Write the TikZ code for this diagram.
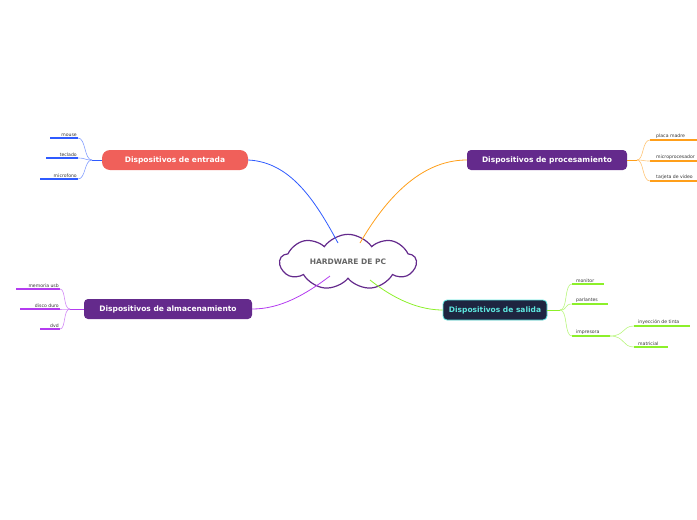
\documentclass[tikz,border=0pt]{standalone}
\usepackage{fontspec}
\setmainfont{DejaVu Sans}
\usetikzlibrary{shapes.symbols}
\definecolor{cblue}{HTML}{2F5BFF}
\definecolor{corange}{HTML}{FF9F1A}
\definecolor{cpurple}{HTML}{B43CF0}
\definecolor{cgreen}{HTML}{8CF02A}
\definecolor{dpurple}{HTML}{642A8C}
\definecolor{salmon}{HTML}{F0605A}
\definecolor{navy}{HTML}{1E2540}
\definecolor{cyan2}{HTML}{5EE8E0}
\tikzset{
  main/.style={rounded corners=4pt, minimum height=20pt, inner xsep=4pt, font=\fontsize{7.5}{9}\selectfont\bfseries, text=white},
  leaf/.style={font=\fontsize{4.6}{5}\selectfont, text=black!80, anchor=south west, inner sep=1pt},
  ul/.style={line width=1.3pt},
  br/.style={line width=0.6pt},
}
\begin{document}
\begin{tikzpicture}[x=1pt,y=-1pt]
\useasboundingbox (0,0) rectangle (697,520);
\clip (0,0) rectangle (697,520);
% center
\node[cloud, cloud puffs=9, cloud puff arc=110, aspect=3.2, draw=dpurple, line width=1.2pt, fill=white, minimum width=136pt, minimum height=38pt, font=\fontsize{7.5}{9}\selectfont\bfseries, text=black!60] (c) at (348,262) {HARDWARE DE PC};
% main nodes
\node[main, fill=salmon, rounded corners=8pt, minimum width=146pt] (e) at (175,160) {Dispositivos de entrada};
\node[main, fill=dpurple, minimum width=160pt] (p) at (547,160) {Dispositivos de procesamiento};
\node[main, fill=dpurple, minimum width=168pt] (a) at (168,309) {Dispositivos de almacenamiento};
\node[main, fill=navy, draw=cyan2, line width=0.8pt, text=cyan2, minimum width=104pt] (s) at (495,310) {Dispositivos de salida};
% connectors
\coordinate (c1) at (338,243); \coordinate (c2) at (360,243);
\coordinate (c3) at (330,276); \coordinate (c4) at (370,280);
\draw[cblue, line width=0.8pt] (c1) .. controls (315,200) and (290,162) .. (e.east);
\draw[corange, line width=0.8pt] (c2) .. controls (385,200) and (420,160) .. (p.west);
\draw[cpurple, line width=0.8pt] (c3) .. controls (305,295) and (280,309) .. (a.east);
\draw[cgreen, line width=0.8pt] (c4) .. controls (395,300) and (420,310) .. (s.west);
% entrada leaves
\coordinate (ej) at (92,160);
\draw[cblue, br] (e.west) -- (ej);
\foreach \n/\t/\y/\xl in {e1/mouse/138/50, e2/teclado/158/46, e3/microfono/179/40}{
  \coordinate (\n r) at (78,\y); \coordinate (\n l) at (\xl,\y);
  \draw[cblue, ul] (\n l) -- (\n r);
  \node[leaf, anchor=south east] (\n) at (\n r) {\t};
  \draw[cblue!60, br] (ej) .. controls (84,160) and (86,\y) .. (\n r);
}
% procesamiento leaves
\coordinate (pj) at (637,160);
\draw[corange, br] (p.east) -- (pj);
\foreach \n/\t/\y in {p1/placa madre/140, p2/microprocesador/161, p3/tarjeta de video/181}{
  \coordinate (\n l) at (650,\y); \coordinate (\n r) at (700,\y);
  \draw[corange, ul] (\n l) -- (\n r);
  \node[leaf] (\n) at ([xshift=5pt]\n l) {\t};
  \draw[corange!60, br] (pj) .. controls (644,160) and (642,\y) .. (\n l);
}
% almacenamiento leaves
\coordinate (aj) at (70,309);
\draw[cpurple, br] (a.west) -- (aj);
\foreach \n/\t/\y/\xl in {a1/memoria usb/289/16, a2/disco duro/309/20, a3/dvd/329/40}{
  \coordinate (\n r) at (60,\y); \coordinate (\n l) at (\xl,\y);
  \draw[cpurple, ul] (\n l) -- (\n r);
  \node[leaf, anchor=south east] (\n) at (\n r) {\t};
  \draw[cpurple!60, br] (aj) .. controls (63,309) and (66,\y) .. (\n r);
}
% salida leaves
\coordinate (sj) at (560,310);
\draw[cgreen, br] (s.east) -- (sj);
\foreach \n/\t/\y/\xr in {s1/monitor/284/604, s2/parlantes/304/608, s3/impresora/336/610}{
  \coordinate (\n l) at (572,\y); \coordinate (\n r) at (\xr,\y);
  \draw[cgreen, ul] (\n l) -- (\n r);
  \node[leaf] (\n) at ([xshift=3pt]\n l) {\t};
  \draw[cgreen!60, br] (sj) .. controls (568,310) and (564,\y) .. (\n l);
}
\foreach \n/\t/\y/\xr in {t1/inyección de tinta/326/690, t2/matricial/347/668}{
  \coordinate (\n l) at (634,\y); \coordinate (\n r) at (\xr,\y);
  \draw[cgreen, ul] (\n l) -- (\n r);
  \node[leaf] (\n) at ([xshift=3pt]\n l) {\t};
  \draw[cgreen!60, br] (s3r) .. controls (625,336) and (622,\y) .. (\n l);
}
\end{tikzpicture}
\end{document}
